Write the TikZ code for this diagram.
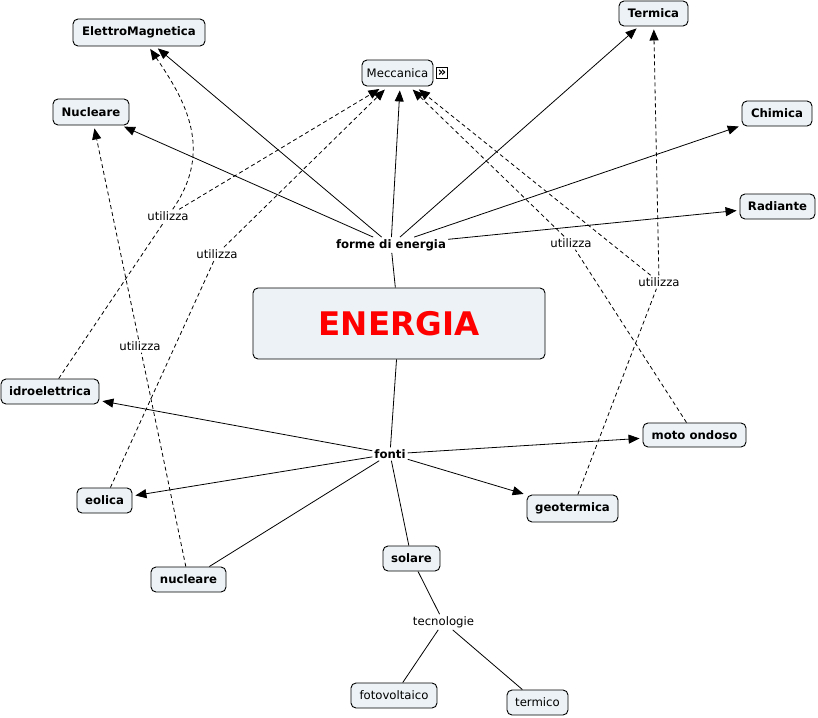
\documentclass[tikz,border=0pt]{standalone}
\usepackage{fontspec}
\setmainfont{DejaVu Sans}
\usetikzlibrary{arrows.meta}
\definecolor{boxfill}{RGB}{236,242,245}
\begin{document}
\begin{tikzpicture}[x=1pt,y=1pt,
  every node/.style={font=\fontsize{11.7}{13}\selectfont},
  cbox/.style={draw, rounded corners=5pt, fill=boxfill, inner sep=0pt, line width=0.9pt, font=\fontsize{11.7}{13}\selectfont\bfseries},
  rbox/.style={cbox, font=\fontsize{11.7}{13}\selectfont},
  lbl/.style={inner sep=2pt, font=\fontsize{11.7}{13}\selectfont},
  blbl/.style={inner sep=2pt, font=\fontsize{11.7}{13}\selectfont\bfseries},
  conn/.style={line width=0.8pt, black},
  arr/.style={conn, -{Triangle[length=11pt,width=9pt]}, shorten >=3pt},
  dconn/.style={conn, dash pattern=on 4pt off 3pt},
  darr/.style={dconn, -{Triangle[length=11pt,width=9pt]}, shorten >=3pt}
]
\useasboundingbox (0,0) rectangle (818,-717);

% concept boxes
\node[cbox, minimum width=132pt, minimum height=27pt] (elettro) at (139,-32.5) {ElettroMagnetica};
\node[rbox, minimum width=71pt, minimum height=26pt] (mec) at (397.5,-73) {Meccanica};
\node[draw, fill=white, minimum size=11pt, inner sep=0pt, line width=0.7pt, font=\fontsize{13}{13}\selectfont\bfseries] (icon) at (442,-73) {»};
\node[cbox, minimum width=69pt, minimum height=25pt] (termica) at (653.5,-13.5) {Termica};
\node[cbox, minimum width=76pt, minimum height=26pt] (nucF) at (91,-112) {Nucleare};
\node[cbox, minimum width=70pt, minimum height=25pt] (chimica) at (777,-113.5) {Chimica};
\node[cbox, minimum width=75pt, minimum height=25pt] (radiante) at (777.5,-206.5) {Radiante};
\node[cbox, minimum width=292pt, minimum height=71pt, font=\fontsize{32.5}{36}\selectfont\bfseries, text=red] (energia) at (399,-323.5) {ENERGIA};
\node[cbox, minimum width=98pt, minimum height=25pt] (idro) at (50,-391.5) {idroelettrica};
\node[cbox, minimum width=103pt, minimum height=24pt] (moto) at (694.5,-435) {moto ondoso};
\node[cbox, minimum width=55pt, minimum height=25pt] (eolica) at (104.5,-500.5) {eolica};
\node[cbox, minimum width=91pt, minimum height=27pt] (geot) at (572.5,-508.5) {geotermica};
\node[cbox, minimum width=57pt, minimum height=25pt] (solare) at (411.5,-558.5) {solare};
\node[cbox, minimum width=75pt, minimum height=25pt] (nucS) at (188.5,-579.5) {nucleare};
\node[rbox, minimum width=86pt, minimum height=25pt] (foto) at (394,-695.5) {fotovoltaico};
\node[rbox, minimum width=61pt, minimum height=25pt] (termico) at (537.5,-702.5) {termico};

% linking phrases
\node[blbl] (forme) at (391,-245) {forme di energia};
\node[blbl] (fonti) at (390,-454) {fonti};
\node[lbl] (tecno) at (443.5,-622) {tecnologie};
\node[lbl] (u1) at (168,-216) {utilizza};
\node[lbl] (u2) at (217,-254) {utilizza};
\node[lbl] (u3) at (140,-346) {utilizza};
\node[lbl] (u4) at (571,-243) {utilizza};
\node[lbl] (u5) at (659,-282) {utilizza};

% forme di energia
\draw[conn] (energia) -- (forme);
\draw[arr] (forme) -- (elettro);
\draw[arr] (forme) -- (nucF);
\draw[arr] (forme) -- ([xshift=2.5pt,yshift=-1pt]mec.south);
\draw[arr] (forme) -- (termica);
\draw[arr] (forme) -- (chimica);
\draw[arr] (forme) -- (radiante);

% fonti
\draw[conn] (energia) -- (fonti);
\draw[arr] (fonti) -- (idro);
\draw[arr] (fonti) -- (eolica);
\draw[arr] (fonti) -- (moto);
\draw[arr] (fonti) -- (geot);
\draw[conn] (fonti) -- (nucS);
\draw[conn] (fonti) -- (solare);

% tecnologie
\draw[conn] (solare) -- (tecno);
\draw[conn] (tecno) -- (foto);
\draw[conn] (tecno) -- (termico);

% utilizza (dashed)
\draw[dconn] (idro) -- (u1);
\draw[darr] (u1) .. controls (214,-150) and (185,-100) .. (elettro);
\draw[darr] (u1) -- ([xshift=-15.5pt,yshift=-1pt]mec.south);
\draw[dconn] (eolica) -- (u2);
\draw[darr] (u2) -- ([xshift=-10.5pt,yshift=-1pt]mec.south);
\draw[dconn] (nucS) -- (u3);
\draw[darr] (u3) -- (nucF);
\draw[dconn] (moto) -- (u4);
\draw[darr] (u4) -- ([xshift=13pt,yshift=-1pt]mec.south);
\draw[dconn] (geot) -- (u5);
\draw[darr] (u5) -- ([xshift=19pt,yshift=-1pt]mec.south);
\draw[darr] (u5) -- (termica);
\end{tikzpicture}
\end{document}
